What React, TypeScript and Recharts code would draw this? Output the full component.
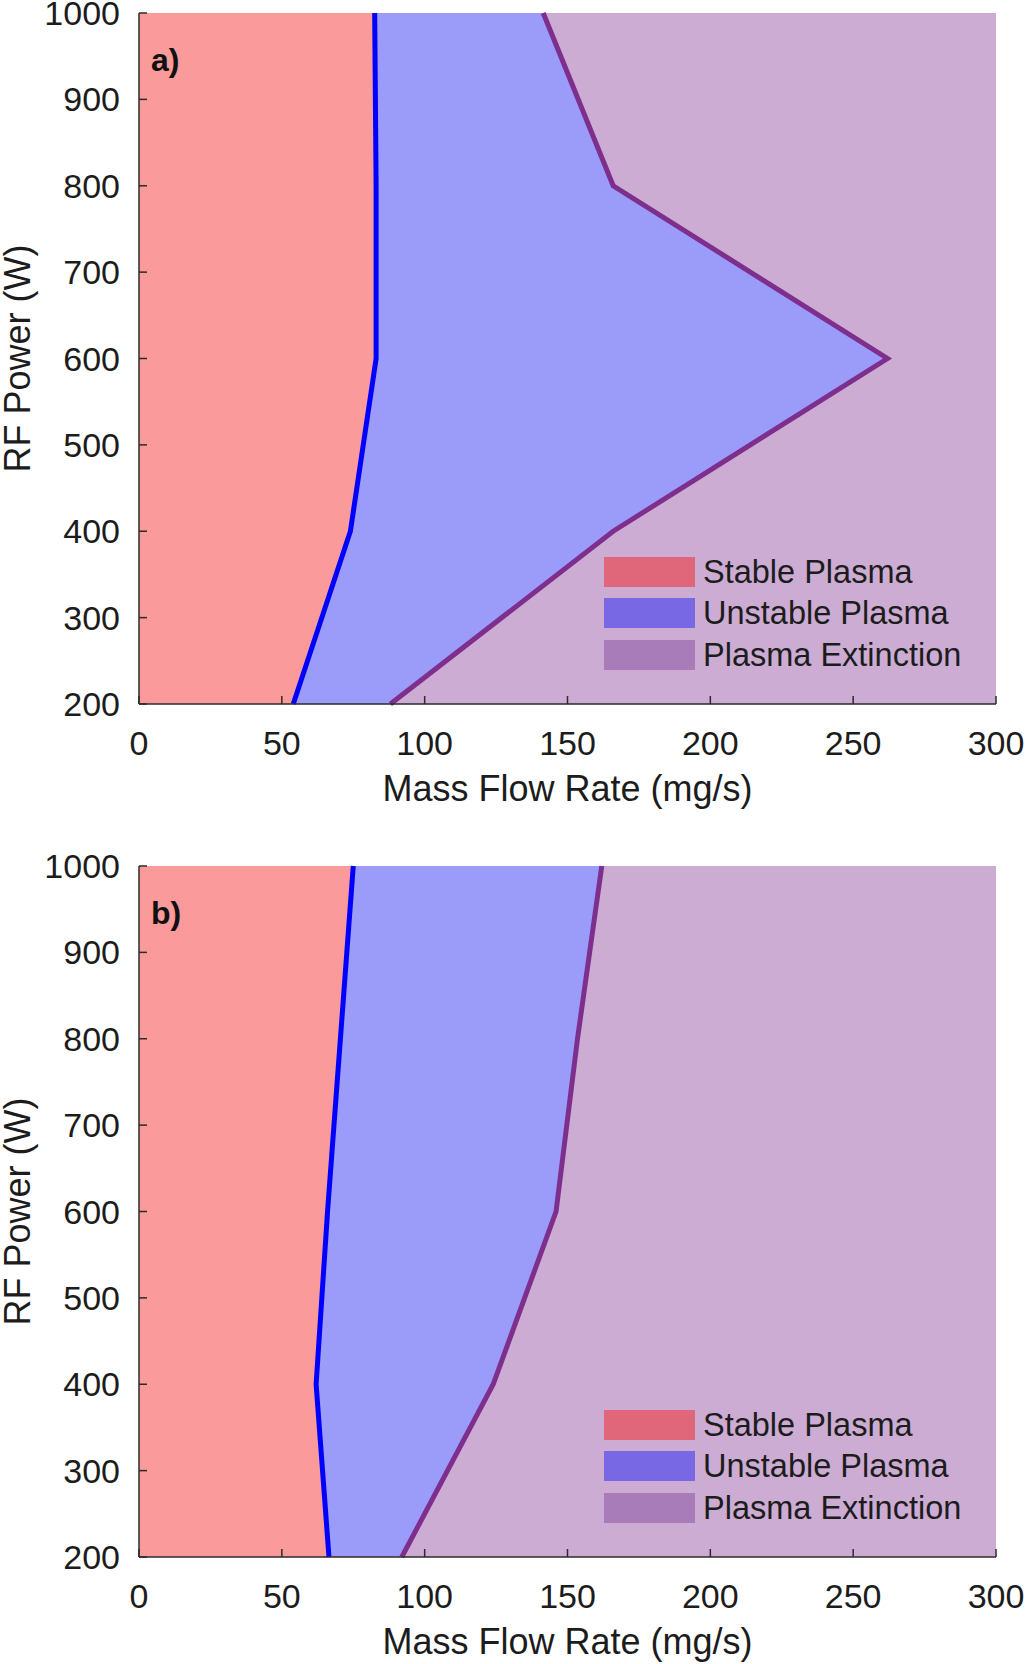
import React from "react";
import {
    ComposedChart,
    Area,
    XAxis,
    YAxis,
    CartesianGrid,
    Legend,
    ReferenceDot
} from "recharts";

// RF power set points (W) at which the regime boundaries were measured
const powerLevels = [200, 400, 600, 800, 1000];

// a) boundary mass flow rates (mg/s)
const stableLimitA = [54, 74, 83, 83, 82.5];
const extinctionLimitA = [88, 166, 262, 166, 141.5];

// b) boundary mass flow rates (mg/s)
const stableLimitB = [66.5, 62, 66, 70.5, 75];
const extinctionLimitB = [92, 124, 146, 153.5, 162];

const flowTicks = [0, 50, 100, 150, 200, 250, 300];
const powerTicks = [200, 300, 400, 500, 600, 700, 800, 900, 1000];

const regionNames = ["Stable Plasma", "Unstable Plasma", "Plasma Extinction"];
const regionSwatches = ["#E0667A", "#7868E4", "#A87CB8"];

const FONT = '"Liberation Sans", Arial, Helvetica, sans-serif';
const INK = "#1c1c1c";
const AXIS = "#2b2b2b";

const FlowTick = ({ x, y, payload }: any) => (
    <g>
        <line x1={x} x2={x} y1={y} y2={y - 8} stroke={AXIS} strokeWidth={1.5} />
        <text x={x} y={y + 51} textAnchor="middle" fontSize={34} fontFamily={FONT} fill={INK}>
            {payload.value}
        </text>
    </g>
);

const PowerTick = ({ x, y, payload }: any) => (
    <g>
        <line x1={x} x2={x + 8} y1={y} y2={y} stroke={AXIS} strokeWidth={1.5} />
        <text x={x - 19} y={y + 12} textAnchor="end" fontSize={34} fontFamily={FONT} fill={INK}>
            {payload.value}
        </text>
    </g>
);

const flowTitle = ({ viewBox }: any) => (
    <text
        x={viewBox.x + viewBox.width / 2}
        y={viewBox.y + 97}
        textAnchor="middle"
        fontSize={36}
        fontFamily={FONT}
        fill={INK}
    >
        Mass Flow Rate (mg/s)
    </text>
);

const powerTitle = ({ viewBox }: any) => {
    const cx = viewBox.x + 30;
    const cy = viewBox.y + viewBox.height / 2;
    return (
        <text
            x={cx}
            y={cy}
            transform={`rotate(-90, ${cx}, ${cy})`}
            textAnchor="middle"
            fontSize={36}
            fontFamily={FONT}
            fill={INK}
        >
            RF Power (W)
        </text>
    );
};

const RegionKey = () => (
    <div style={{ display: "flex", flexDirection: "column", fontFamily: FONT }}>
        {regionNames.map((name, i) => (
            <div key={name} style={{ display: "flex", alignItems: "center", height: 41.5 }}>
                <div style={{ width: 91, height: 30, background: regionSwatches[i], marginRight: 8 }} />
                <span style={{ fontSize: 32.5, lineHeight: 1, color: INK }}>{name}</span>
            </div>
        ))}
    </div>
);

interface PanelProps {
    tag: string;
    stable: number[];
    extinction: number[];
    top: number;
    axisHeight: number;
}

function Panel({ tag, stable, extinction, top, axisHeight }: PanelProps) {
    const rows = powerLevels.map((power, i) => ({
        power,
        stable: stable[i],
        extinction: extinction[i]
    }));

    const panelTag = ({ viewBox }: any) => (
        <text
            x={viewBox.x + 12}
            y={viewBox.y + 57.5}
            fontSize={32}
            fontWeight="bold"
            fontFamily={FONT}
            fill="#111"
        >
            {tag}
        </text>
    );

    return (
        <ComposedChart
            layout="vertical"
            width={1025}
            height={832}
            data={rows}
            margin={{ top, right: 29, bottom: 0, left: 0 }}
        >
            {/* extinction region is the plot background */}
            <CartesianGrid horizontal={false} vertical={false} fill="#CDACD4" stroke="none" />
            <Area
                dataKey="extinction"
                type="linear"
                fill="#9B9BFA"
                fillOpacity={1}
                stroke="#7E2F8E"
                strokeWidth={5}
                isAnimationActive={false}
            />
            <Area
                dataKey="stable"
                type="linear"
                fill="#FA9A9B"
                fillOpacity={1}
                stroke="#0000FF"
                strokeWidth={5}
                isAnimationActive={false}
            />
            <XAxis
                type="number"
                domain={[0, 300]}
                ticks={flowTicks}
                interval={0}
                height={axisHeight}
                tickSize={0}
                tickMargin={0}
                tickLine={false}
                tick={<FlowTick />}
                axisLine={{ stroke: AXIS, strokeWidth: 1.5 }}
                label={flowTitle}
            />
            <YAxis
                type="number"
                dataKey="power"
                domain={[200, 1000]}
                reversed
                ticks={powerTicks}
                interval={0}
                width={139}
                tickSize={0}
                tickMargin={0}
                tickLine={false}
                tick={<PowerTick />}
                axisLine={{ stroke: AXIS, strokeWidth: 1.5 }}
                label={powerTitle}
            />
            <ReferenceDot x={0} y={1000} r={0} fill="none" stroke="none" label={panelTag} />
            <Legend
                layout="vertical"
                align="center"
                verticalAlign="middle"
                wrapperStyle={{ left: 604, top: top + 538, width: 400 }}
                content={() => <RegionKey />}
            />
        </ComposedChart>
    );
}

export default function App() {
    return (
        <div style={{ position: "absolute", left: 0, top: 0, width: 1025, height: 1664, background: "#fff" }}>
            <Panel tag="a)" stable={stableLimitA} extinction={extinctionLimitA} top={13} axisHeight={128} />
            <Panel tag="b)" stable={stableLimitB} extinction={extinctionLimitB} top={34} axisHeight={107} />
        </div>
    );
}
